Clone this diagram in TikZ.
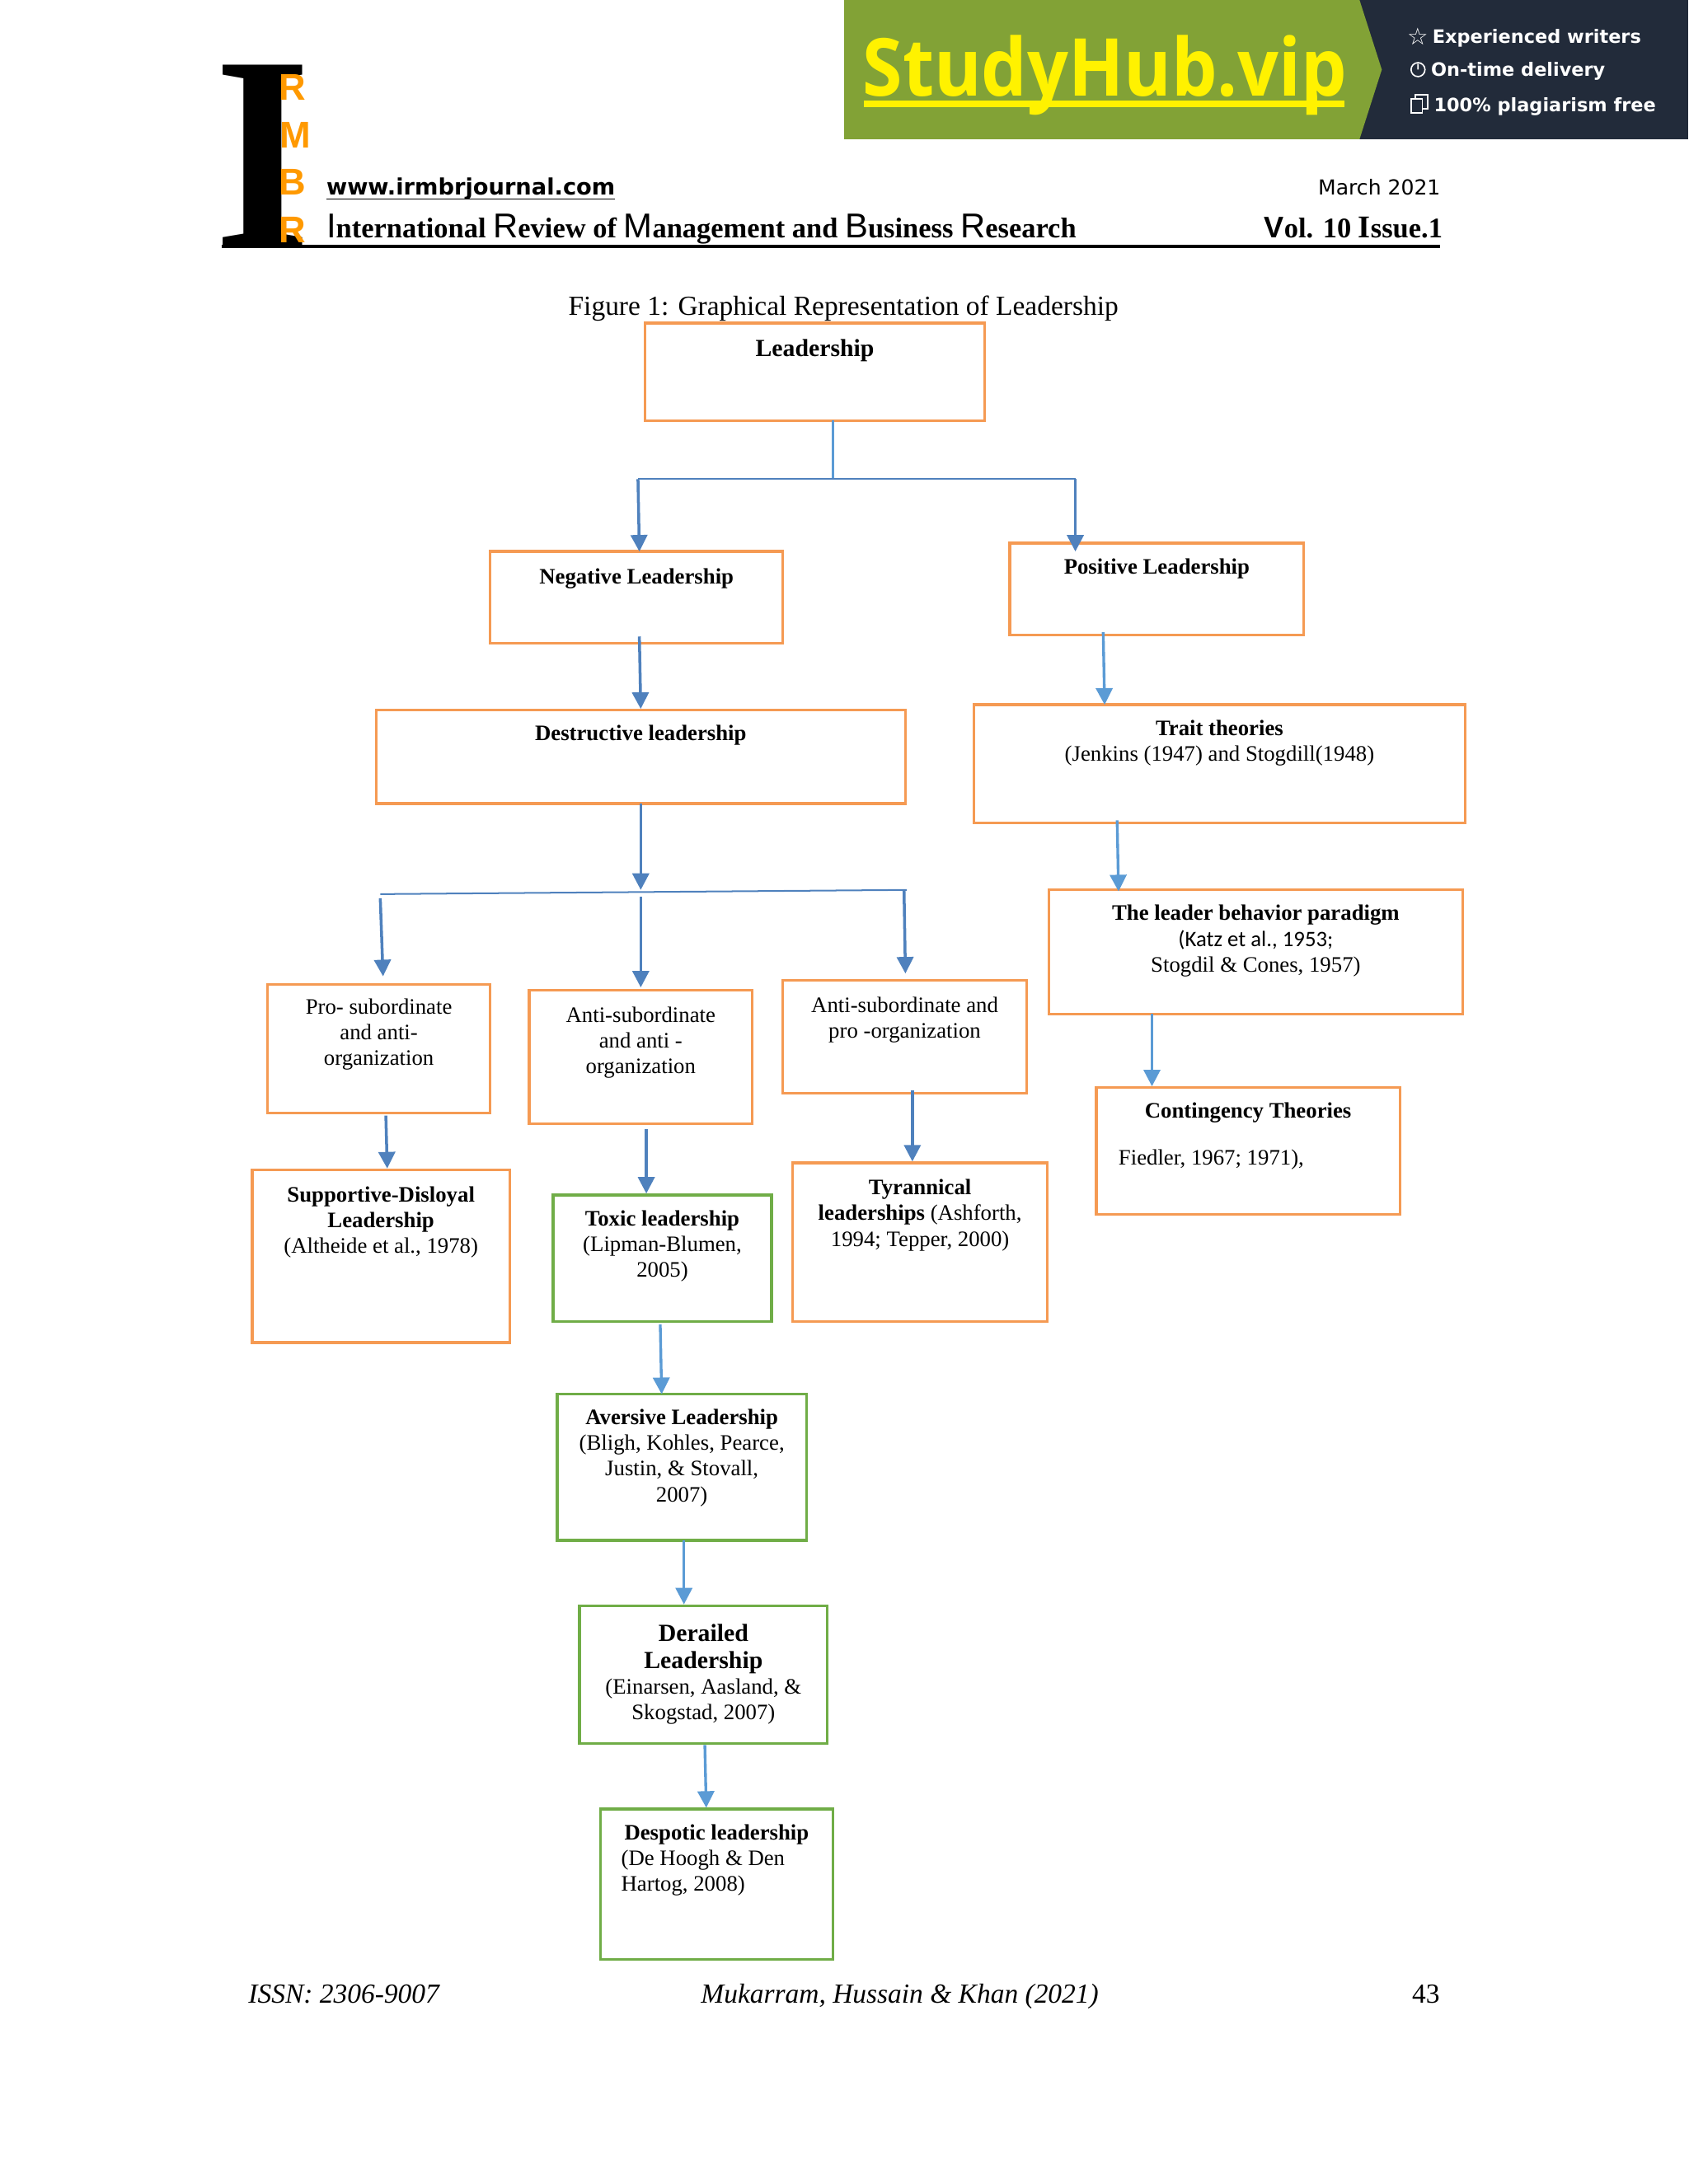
\documentclass[tikz,border=0pt]{standalone}
\usepackage{graphicx}
\usepackage{fontspec}
\usepackage{tikz}
\usetikzlibrary{arrows.meta}
\setmainfont{Liberation Serif}
\newfontfamily\logofont{Liberation Sans}
\newfontfamily\webfont{DejaVu Sans}
\newfontfamily\hubfont{Open Sans}
\newfontfamily\calfont{Carlito}
\definecolor{boxorange}{HTML}{F59A53}
\definecolor{boxgreen}{HTML}{70AD47}
\definecolor{arrowblue}{HTML}{4F81BD}
\definecolor{arrowlight}{HTML}{5B9BD5}
\definecolor{bannergreen}{HTML}{82A236}
\definecolor{bannerdark}{HTML}{222B3A}
\definecolor{logoorange}{HTML}{FF9900}
\newdimen\unitlen
\unitlen=0.505pt
\newcommand{\boxtxt}[4]{\parbox[t][#2\unitlen][t]{#1\unitlen}{\centering\vspace*{#3\unitlen}#4}}
\newcommand{\leftln}[3]{\makebox[#1\unitlen][l]{\hspace*{#2\unitlen}#3}}
\newcommand{\capl}[1]{{\logofont\mdseries\fontsize{12.5}{13}\selectfont #1}}
\begin{document}
\begin{tikzpicture}
            [x=0.505pt,y=-0.505pt,
            every node/.style={inner sep=0pt,font=\fontsize{8}{9.3}\selectfont},
            obox/.style={draw=boxorange,line width=1pt,anchor=north west},
            gbox/.style={draw=boxgreen,line width=1pt,anchor=north west},
            arr/.style={draw=arrowblue,line width=1.05pt,-{Triangle[length=6pt,width=6pt]}},
            arrl/.style={draw=arrowlight,line width=1pt,-{Triangle[length=6pt,width=6pt]}},
            bar/.style={draw=arrowblue,line width=0.6pt},
            bantext/.style={anchor=base west,text=white,font=\webfont\bfseries\fontsize{6.7}{8}\selectfont},
            logoletter/.style={text=logoorange,font=\logofont\bfseries\fontsize{13.5}{14}\selectfont},
            foottext/.style={font=\itshape\fontsize{10}{11}\selectfont}]
            \useasboundingbox (0,0) rectangle (1212,1568.2);
            % banner
            \fill[bannerdark] (606,0) rectangle (1212,100);
            \fill[bannergreen] (606,0) -- (976,0) -- (992,50) -- (976,100) -- (606,100) -- cycle;
            \node[anchor=base west,text=yellow,font=\hubfont\bfseries\fontsize{29}{30}\selectfont] (hub) at (619,69) {\scalebox{0.905}[1]{StudyHub.vip}};
            \fill[yellow] (620,72) rectangle (965,77);
            \node[bantext] (ban1) at (1028,31) {Experienced writers};
            \node[bantext] (ban2) at (1027,55) {On-time delivery};
            \node[bantext] (ban3) at (1029,80) {100\% plagiarism free};
            \node[text=white,font=\webfont\fontsize{8.5}{9}\selectfont] (star) at (1018,26) {☆};
            \draw[white,line width=0.5pt] (1018,50) circle (5) (1018,50) -- (1018,46);
            \draw[white,line width=0.5pt] (1013,71) rectangle (1021,81) (1016,71) -- (1016,68) -- (1025,68) -- (1025,78) -- (1021,78);
            % journal head
            \node (bigI) at (188.5,112) {\resizebox{69\unitlen}{131\unitlen}{\textbf{I}}};
            \node[logoletter] (logoR) at (210,63) {R};
            \node[logoletter] (logoM) at (212,97) {M};
            \node[logoletter] (logoB) at (210,131) {B};
            \node[logoletter] (logoRb) at (210,165) {R};
            \node[anchor=base west,font=\webfont\bfseries\fontsize{8.15}{9}\selectfont] (web) at (234,140) {\underline{\smash{www.irmbrjournal.com}}};
            \node[anchor=base east,font=\webfont\fontsize{7.5}{9}\selectfont] (month) at (1034.5,140) {March 2021};
            \node[anchor=base west,font=\bfseries\fontsize{10.3}{11}\selectfont] (journal) at (234,171) {\capl{I}nternational \capl{R}eview of \capl{M}anagement and \capl{B}usiness \capl{R}esearch};
            \node[anchor=base east,font=\bfseries\fontsize{10.3}{11}\selectfont] (vol) at (1036,171) {{\logofont\fontsize{10.8}{12}\selectfont V}ol. 10 {\fontsize{11.5}{12}\selectfont I}ssue.1};
            \draw[line width=1.1pt] (159,177) -- (1034,177);
            \node[font=\fontsize{10}{11}\selectfont] (fig) at (605.5,221.5) {Figure 1: Graphical Representation of Leadership};
            % orange boxes
            \node[obox,font=\fontsize{8.9}{9.3}\selectfont] (lead) at (462,231) {\boxtxt{244}{70}{12}{\textbf{Leadership}}};
            \node[obox] (neg) at (351,395) {\boxtxt{210}{66}{12}{\textbf{Negative Leadership}}};
            \node[obox] (pos) at (724,389) {\boxtxt{211}{66}{11}{\textbf{Positive Leadership}}};
            \node[obox] (dest) at (269,509) {\boxtxt{380}{67}{11}{\textbf{Destructive leadership}}};
            \node[obox] (trait) at (698,505) {\boxtxt{353}{85}{11}{\textbf{Trait theories}\\(Jenkins (1947) and Stogdill(1948)}};
            \node[obox] (behav) at (752,638) {\boxtxt{297}{89}{11}{\textbf{The leader behavior paradigm}\\{\calfont(Katz et al., 1953;}\\Stogdil \& Cones, 1957)}};
            \node[obox] (cont) at (786,780) {\boxtxt{218}{91}{11}{\textbf{Contingency Theories}\\[7.5pt]\leftln{218}{16}{Fiedler, 1967; 1971),}}};
            \node[obox] (pro) at (191,706) {\boxtxt{160}{92}{10}{Pro- subordinate\\and anti-\\organization}};
            \node[obox] (anti) at (379,710) {\boxtxt{160}{96}{12}{Anti-subordinate\\and anti -\\organization}};
            \node[obox] (apro) at (561,703) {\boxtxt{175}{81}{12}{Anti-subordinate and\\pro -organization}};
            \node[obox] (supp) at (180,839) {\boxtxt{185}{124}{12}{\textbf{Supportive-Disloyal}\\\textbf{Leadership}\\(Altheide et al., 1978)}};
            \node[obox] (tyr) at (568,834) {\boxtxt{183}{114}{12}{\textbf{Tyrannical}\\\textbf{leaderships} (Ashforth,\\1994; Tepper, 2000)}};
            % green boxes
            \node[gbox] (toxic) at (396,857) {\boxtxt{157}{91}{11}{\textbf{Toxic leadership}\\(Lipman-Blumen,\\2005)}};
            \node[gbox] (avers) at (399,1000) {\boxtxt{179}{105}{11}{\textbf{Aversive Leadership}\\(Bligh, Kohles, Pearce,\\Justin, \& Stovall,\\2007)}};
            \node[gbox] (derail) at (415,1152) {\boxtxt{178}{99}{13}{{\bfseries\fontsize{8.9}{10}\selectfont Derailed\\Leadership\\}(Einarsen, Aasland, \&\\Skogstad, 2007)}};
            \node[gbox] (desp) at (430,1298) {\boxtxt{167}{108}{11}{\textbf{Despotic leadership}\\\leftln{167}{15}{(De Hoogh \& Den}\\\leftln{167}{15}{Hartog, 2008)}}};
            % free ends of the connectors
            \coordinate (leadb) at (598,302);
            \coordinate (stem) at (598,344);
            \coordinate (stemL) at (458,344);
            \coordinate (stemR) at (772,344);
            \coordinate (negin) at (459,396);
            \coordinate (posin) at (772,396);
            \coordinate (negout) at (459,457);
            \coordinate (destin) at (460,509);
            \coordinate (destout) at (460,577);
            \coordinate (destin2) at (460,639);
            \coordinate (barL) at (273,642);
            \coordinate (barR) at (651,639);
            \coordinate (a1) at (273,645);
            \coordinate (a2) at (275,701);
            \coordinate (b1) at (460,644);
            \coordinate (b2) at (460,709);
            \coordinate (c1) at (649,639);
            \coordinate (c2) at (650,699);
            \coordinate (d1) at (277,801);
            \coordinate (d2) at (278,839);
            \coordinate (e1) at (464,811);
            \coordinate (e2) at (464,857);
            \coordinate (f1) at (655,783);
            \coordinate (f2) at (655,834);
            \coordinate (g1) at (474,951);
            \coordinate (g2) at (475,1001);
            \coordinate (h1) at (491,1106);
            \coordinate (h2) at (491,1152);
            \coordinate (i1) at (506,1253);
            \coordinate (i2) at (507,1298);
            \coordinate (j1) at (792,454);
            \coordinate (j2) at (793,506);
            \coordinate (k1) at (802,589);
            \coordinate (k2) at (803,640);
            \coordinate (l1) at (827,728);
            \coordinate (l2) at (827,780);
            % connectors
            \draw[arrowlight,line width=0.7pt] (leadb) -- (stem);
            \draw[bar] (stemL) -- (stem) -- (stemR);
            \draw[arr] (stemL) -- (negin);
            \draw[arr] (stemR) -- (posin);
            \draw[arr] (negout) -- (destin);
            \draw[arr] (destout) -- (destin2);
            \draw[bar] (barL) -- (barR);
            \draw[arr] (a1) -- (a2);
            \draw[arr] (b1) -- (b2);
            \draw[arr] (c1) -- (c2);
            \draw[arr] (d1) -- (d2);
            \draw[arr] (e1) -- (e2);
            \draw[arr] (f1) -- (f2);
            \draw[arrl] (g1) -- (g2);
            \draw[arrl] (h1) -- (h2);
            \draw[arrl] (i1) -- (i2);
            \draw[arrl] (j1) -- (j2);
            \draw[arrl] (k1) -- (k2);
            \draw[arrl] (l1) -- (l2);
            % footer
            \node[foottext,anchor=base west] (issn) at (178,1438) {ISSN: 2306-9007};
            \node[foottext,anchor=base] (auth) at (646,1438) {Mukarram, Hussain \& Khan (2021)};
            \node[anchor=base east,font=\fontsize{10}{11}\selectfont] (pagenum) at (1034,1438) {43};
        \end{tikzpicture}
\end{document}
